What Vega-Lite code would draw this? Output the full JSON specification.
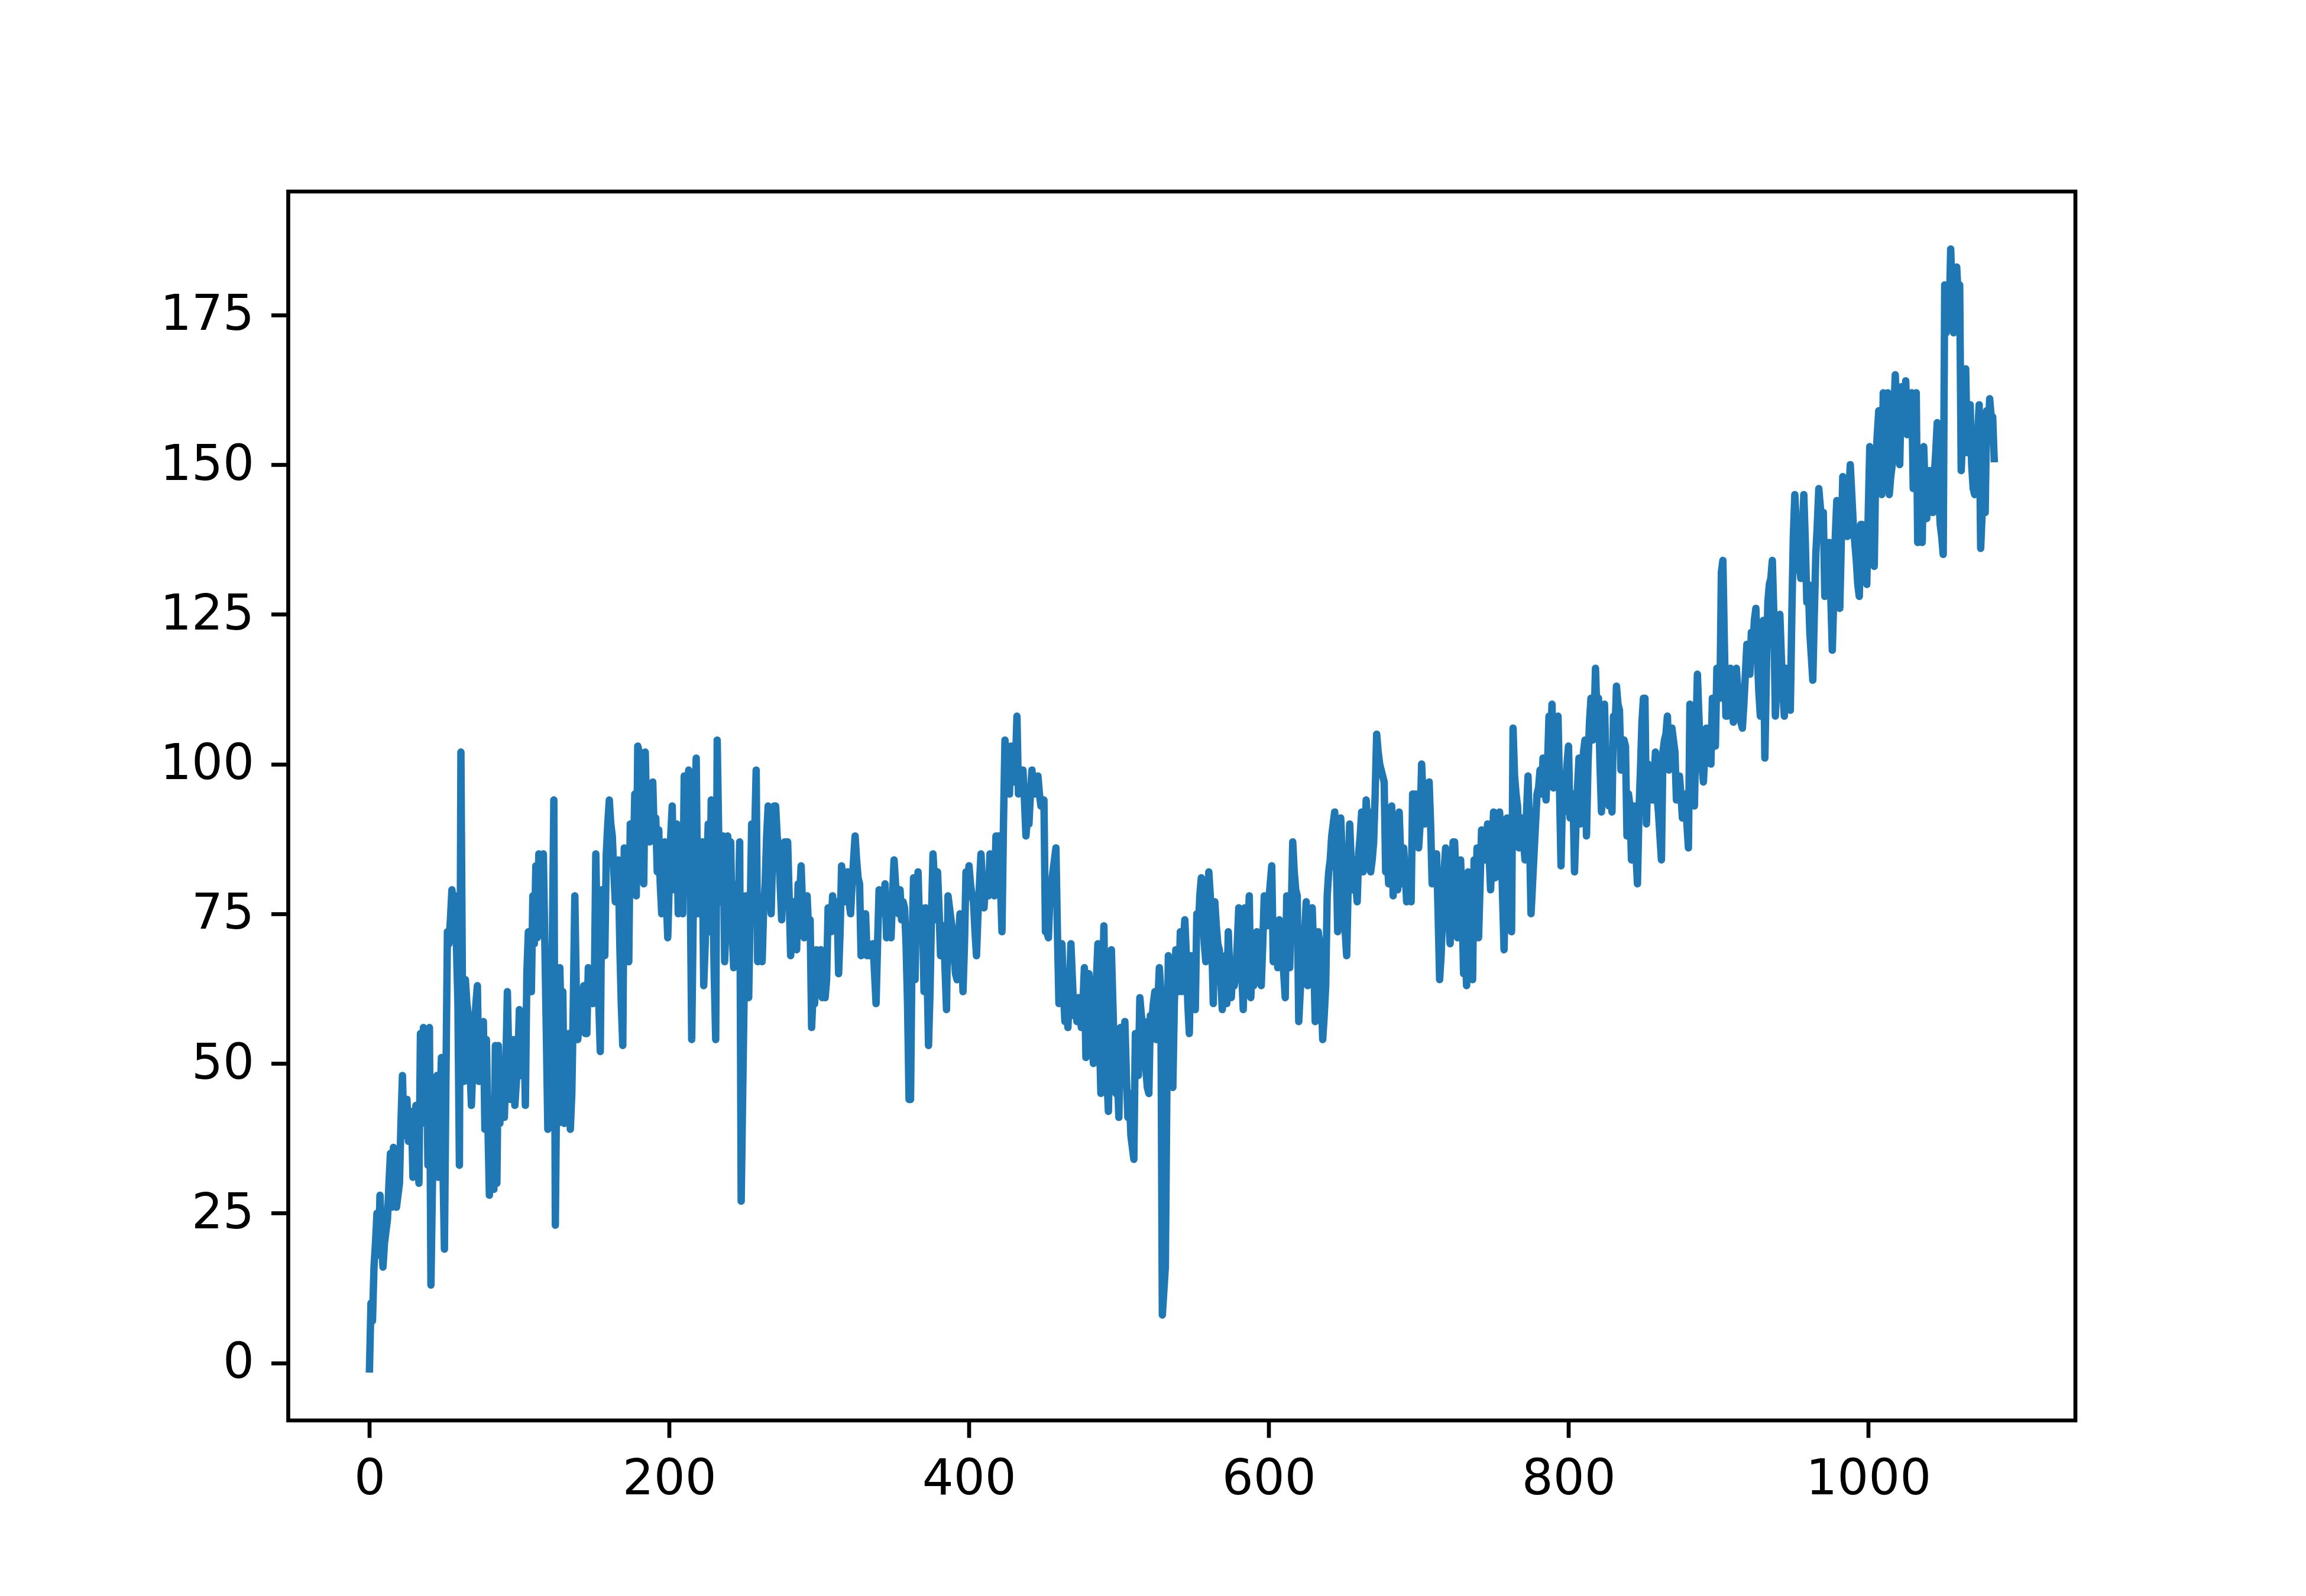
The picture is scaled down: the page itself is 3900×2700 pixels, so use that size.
{
"$schema": "https://vega.github.io/schema/vega-lite/v6.json",
"width": 3022.5, "height": 2079,
"autosize": {"type": "none"},
"padding": {"left": 487.5, "top": 324, "right": 390, "bottom": 297},
"background": "white",
"config": {
  "view": {"stroke": "black", "strokeWidth": 6.67},
  "axis": {"domain": false, "grid": false, "ticks": true, "tickColor": "black", "tickWidth": 6.67, "tickSize": 29, "labelFont": "DejaVu Sans", "labelFontSize": 83.3, "labelColor": "black", "labelPadding": 29, "labelFlush": false, "labelOverlap": false, "labelLimit": 2000, "format": "d", "title": null}
},
"data": {"values": [
{"i":0,"v":-1},{"i":1,"v":10},{"i":2,"v":7},{"i":3,"v":16},{"i":4,"v":20},{"i":5,"v":25},{"i":6,"v":18},{"i":7,"v":28},{"i":8,"v":22},{"i":9,"v":16},
{"i":10,"v":20},{"i":11,"v":22},{"i":12,"v":24},{"i":13,"v":30},{"i":14,"v":35},{"i":15,"v":26},{"i":16,"v":36},{"i":17,"v":30},{"i":18,"v":26},{"i":19,"v":28},
{"i":20,"v":30},{"i":21,"v":40},{"i":22,"v":48},{"i":23,"v":38},{"i":24,"v":42},{"i":25,"v":44},{"i":26,"v":37},{"i":27,"v":40},{"i":28,"v":42},{"i":29,"v":31},
{"i":30,"v":38},{"i":31,"v":43},{"i":32,"v":36},{"i":33,"v":30},{"i":34,"v":55},{"i":35,"v":47},{"i":36,"v":56},{"i":37,"v":40},{"i":38,"v":55},{"i":39,"v":33},
{"i":40,"v":56},{"i":41,"v":13},{"i":42,"v":30},{"i":43,"v":40},{"i":44,"v":45},{"i":45,"v":48},{"i":46,"v":31},{"i":47,"v":42},{"i":48,"v":51},{"i":49,"v":33},
{"i":50,"v":19},{"i":51,"v":47},{"i":52,"v":72},{"i":53,"v":70},{"i":54,"v":74},{"i":55,"v":79},{"i":56,"v":76},{"i":57,"v":78},{"i":58,"v":70},{"i":59,"v":60},
{"i":60,"v":33},{"i":61,"v":102},{"i":62,"v":63},{"i":63,"v":47},{"i":64,"v":64},{"i":65,"v":60},{"i":66,"v":58},{"i":67,"v":50},{"i":68,"v":43},{"i":69,"v":50},
{"i":70,"v":55},{"i":71,"v":60},{"i":72,"v":63},{"i":73,"v":47},{"i":74,"v":54},{"i":75,"v":50},{"i":76,"v":57},{"i":77,"v":39},{"i":78,"v":54},{"i":79,"v":40},
{"i":80,"v":28},{"i":81,"v":40},{"i":82,"v":30},{"i":83,"v":29},{"i":84,"v":53},{"i":85,"v":30},{"i":86,"v":53},{"i":87,"v":40},{"i":88,"v":49},{"i":89,"v":45},
{"i":90,"v":41},{"i":91,"v":50},{"i":92,"v":62},{"i":93,"v":50},{"i":94,"v":44},{"i":95,"v":50},{"i":96,"v":54},{"i":97,"v":43},{"i":98,"v":47},{"i":99,"v":50},
{"i":100,"v":59},{"i":101,"v":48},{"i":102,"v":55},{"i":103,"v":58},{"i":104,"v":43},{"i":105,"v":65},{"i":106,"v":72},{"i":107,"v":63},{"i":108,"v":62},{"i":109,"v":78},
{"i":110,"v":70},{"i":111,"v":83},{"i":112,"v":71},{"i":113,"v":85},{"i":114,"v":76},{"i":115,"v":80},{"i":116,"v":85},{"i":117,"v":70},{"i":118,"v":55},{"i":119,"v":39},
{"i":120,"v":60},{"i":121,"v":45},{"i":122,"v":70},{"i":123,"v":94},{"i":124,"v":23},{"i":125,"v":50},{"i":126,"v":40},{"i":127,"v":66},{"i":128,"v":55},{"i":129,"v":62},
{"i":130,"v":40},{"i":131,"v":48},{"i":132,"v":52},{"i":133,"v":55},{"i":134,"v":39},{"i":135,"v":45},{"i":136,"v":60},{"i":137,"v":78},{"i":138,"v":62},{"i":139,"v":54},
{"i":140,"v":58},{"i":141,"v":56},{"i":142,"v":60},{"i":143,"v":63},{"i":144,"v":55},{"i":145,"v":55},{"i":146,"v":66},{"i":147,"v":62},{"i":148,"v":64},{"i":149,"v":60},
{"i":150,"v":62},{"i":151,"v":85},{"i":152,"v":70},{"i":153,"v":60},{"i":154,"v":52},{"i":155,"v":79},{"i":156,"v":72},{"i":157,"v":68},{"i":158,"v":85},{"i":159,"v":90},
{"i":160,"v":94},{"i":161,"v":90},{"i":162,"v":88},{"i":163,"v":82},{"i":164,"v":77},{"i":165,"v":80},{"i":166,"v":84},{"i":167,"v":70},{"i":168,"v":60},{"i":169,"v":53},
{"i":170,"v":86},{"i":171,"v":75},{"i":172,"v":70},{"i":173,"v":67},{"i":174,"v":90},{"i":175,"v":85},{"i":176,"v":82},{"i":177,"v":95},{"i":178,"v":78},{"i":179,"v":103},
{"i":180,"v":102},{"i":181,"v":92},{"i":182,"v":85},{"i":183,"v":80},{"i":184,"v":102},{"i":185,"v":90},{"i":186,"v":88},{"i":187,"v":87},{"i":188,"v":92},{"i":189,"v":97},
{"i":190,"v":88},{"i":191,"v":91},{"i":192,"v":82},{"i":193,"v":89},{"i":194,"v":80},{"i":195,"v":75},{"i":196,"v":82},{"i":197,"v":87},{"i":198,"v":78},{"i":199,"v":71},
{"i":200,"v":80},{"i":201,"v":88},{"i":202,"v":93},{"i":203,"v":79},{"i":204,"v":85},{"i":205,"v":90},{"i":206,"v":75},{"i":207,"v":82},{"i":208,"v":77},{"i":209,"v":75},
{"i":210,"v":98},{"i":211,"v":88},{"i":212,"v":95},{"i":213,"v":99},{"i":214,"v":80},{"i":215,"v":54},{"i":216,"v":75},{"i":217,"v":90},{"i":218,"v":101},{"i":219,"v":75},
{"i":220,"v":80},{"i":221,"v":84},{"i":222,"v":87},{"i":223,"v":63},{"i":224,"v":70},{"i":225,"v":82},{"i":226,"v":90},{"i":227,"v":72},{"i":228,"v":94},{"i":229,"v":80},
{"i":230,"v":65},{"i":231,"v":54},{"i":232,"v":104},{"i":233,"v":88},{"i":234,"v":77},{"i":235,"v":83},{"i":236,"v":88},{"i":237,"v":67},{"i":238,"v":75},{"i":239,"v":88},
{"i":240,"v":80},{"i":241,"v":87},{"i":242,"v":72},{"i":243,"v":66},{"i":244,"v":75},{"i":245,"v":80},{"i":246,"v":74},{"i":247,"v":87},{"i":248,"v":27},{"i":249,"v":45},
{"i":250,"v":62},{"i":251,"v":78},{"i":252,"v":70},{"i":253,"v":61},{"i":254,"v":75},{"i":255,"v":90},{"i":256,"v":80},{"i":257,"v":88},{"i":258,"v":99},{"i":259,"v":67},
{"i":260,"v":72},{"i":261,"v":75},{"i":262,"v":67},{"i":263,"v":76},{"i":264,"v":80},{"i":265,"v":88},{"i":266,"v":93},{"i":267,"v":82},{"i":268,"v":75},{"i":269,"v":85},
{"i":270,"v":93},{"i":271,"v":93},{"i":272,"v":88},{"i":273,"v":86},{"i":274,"v":80},{"i":275,"v":74},{"i":276,"v":80},{"i":277,"v":87},{"i":278,"v":84},{"i":279,"v":87},
{"i":280,"v":78},{"i":281,"v":68},{"i":282,"v":72},{"i":283,"v":77},{"i":284,"v":73},{"i":285,"v":69},{"i":286,"v":80},{"i":287,"v":78},{"i":288,"v":83},{"i":289,"v":76},
{"i":290,"v":71},{"i":291,"v":74},{"i":292,"v":78},{"i":293,"v":72},{"i":294,"v":74},{"i":295,"v":56},{"i":296,"v":62},{"i":297,"v":60},{"i":298,"v":69},{"i":299,"v":63},
{"i":300,"v":68},{"i":301,"v":69},{"i":302,"v":61},{"i":303,"v":65},{"i":304,"v":61},{"i":305,"v":64},{"i":306,"v":76},{"i":307,"v":74},{"i":308,"v":72},{"i":309,"v":78},
{"i":310,"v":74},{"i":311,"v":77},{"i":312,"v":77},{"i":313,"v":65},{"i":314,"v":72},{"i":315,"v":83},{"i":316,"v":80},{"i":317,"v":77},{"i":318,"v":80},{"i":319,"v":82},
{"i":320,"v":77},{"i":321,"v":75},{"i":322,"v":80},{"i":323,"v":84},{"i":324,"v":88},{"i":325,"v":84},{"i":326,"v":81},{"i":327,"v":80},{"i":328,"v":68},{"i":329,"v":73},
{"i":330,"v":70},{"i":331,"v":75},{"i":332,"v":68},{"i":333,"v":70},{"i":334,"v":68},{"i":335,"v":69},{"i":336,"v":70},{"i":337,"v":65},{"i":338,"v":60},{"i":339,"v":70},
{"i":340,"v":79},{"i":341,"v":75},{"i":342,"v":78},{"i":343,"v":77},{"i":344,"v":80},{"i":345,"v":71},{"i":346,"v":74},{"i":347,"v":72},{"i":348,"v":71},{"i":349,"v":78},
{"i":350,"v":84},{"i":351,"v":80},{"i":352,"v":76},{"i":353,"v":75},{"i":354,"v":79},{"i":355,"v":74},{"i":356,"v":77},{"i":357,"v":76},{"i":358,"v":70},{"i":359,"v":60},
{"i":360,"v":44},{"i":361,"v":44},{"i":362,"v":69},{"i":363,"v":81},{"i":364,"v":64},{"i":365,"v":78},{"i":366,"v":82},{"i":367,"v":73},{"i":368,"v":76},{"i":369,"v":75},
{"i":370,"v":62},{"i":371,"v":76},{"i":372,"v":66},{"i":373,"v":53},{"i":374,"v":62},{"i":375,"v":75},{"i":376,"v":85},{"i":377,"v":80},{"i":378,"v":74},{"i":379,"v":82},
{"i":380,"v":76},{"i":381,"v":68},{"i":382,"v":72},{"i":383,"v":73},{"i":384,"v":66},{"i":385,"v":59},{"i":386,"v":78},{"i":387,"v":76},{"i":388,"v":74},{"i":389,"v":72},
{"i":390,"v":68},{"i":391,"v":65},{"i":392,"v":64},{"i":393,"v":71},{"i":394,"v":75},{"i":395,"v":70},{"i":396,"v":62},{"i":397,"v":70},{"i":398,"v":82},{"i":399,"v":80},
{"i":400,"v":83},{"i":401,"v":80},{"i":402,"v":78},{"i":403,"v":77},{"i":404,"v":72},{"i":405,"v":68},{"i":406,"v":75},{"i":407,"v":80},{"i":408,"v":85},{"i":409,"v":80},
{"i":410,"v":76},{"i":411,"v":80},{"i":412,"v":79},{"i":413,"v":78},{"i":414,"v":85},{"i":415,"v":80},{"i":416,"v":82},{"i":417,"v":78},{"i":418,"v":88},{"i":419,"v":85},
{"i":420,"v":88},{"i":421,"v":80},{"i":422,"v":72},{"i":423,"v":90},{"i":424,"v":104},{"i":425,"v":100},{"i":426,"v":97},{"i":427,"v":95},{"i":428,"v":103},{"i":429,"v":99},
{"i":430,"v":97},{"i":431,"v":100},{"i":432,"v":108},{"i":433,"v":95},{"i":434,"v":98},{"i":435,"v":96},{"i":436,"v":99},{"i":437,"v":94},{"i":438,"v":88},{"i":439,"v":91},
{"i":440,"v":90},{"i":441,"v":95},{"i":442,"v":99},{"i":443,"v":96},{"i":444,"v":95},{"i":445,"v":97},{"i":446,"v":98},{"i":447,"v":95},{"i":448,"v":93},{"i":449,"v":94},
{"i":450,"v":94},{"i":451,"v":72},{"i":452,"v":72},{"i":453,"v":71},{"i":454,"v":78},{"i":455,"v":80},{"i":456,"v":82},{"i":457,"v":84},{"i":458,"v":86},{"i":459,"v":72},
{"i":460,"v":60},{"i":461,"v":65},{"i":462,"v":70},{"i":463,"v":62},{"i":464,"v":57},{"i":465,"v":60},{"i":466,"v":56},{"i":467,"v":62},{"i":468,"v":70},{"i":469,"v":64},
{"i":470,"v":58},{"i":471,"v":60},{"i":472,"v":57},{"i":473,"v":61},{"i":474,"v":58},{"i":475,"v":56},{"i":476,"v":60},{"i":477,"v":66},{"i":478,"v":51},{"i":479,"v":58},
{"i":480,"v":65},{"i":481,"v":60},{"i":482,"v":55},{"i":483,"v":50},{"i":484,"v":58},{"i":485,"v":64},{"i":486,"v":70},{"i":487,"v":55},{"i":488,"v":45},{"i":489,"v":60},
{"i":490,"v":73},{"i":491,"v":55},{"i":492,"v":48},{"i":493,"v":42},{"i":494,"v":55},{"i":495,"v":69},{"i":496,"v":60},{"i":497,"v":51},{"i":498,"v":45},{"i":499,"v":48},
{"i":500,"v":41},{"i":501,"v":56},{"i":502,"v":50},{"i":503,"v":55},{"i":504,"v":57},{"i":505,"v":48},{"i":506,"v":41},{"i":507,"v":45},{"i":508,"v":38},{"i":509,"v":36},
{"i":510,"v":34},{"i":511,"v":55},{"i":512,"v":52},{"i":513,"v":48},{"i":514,"v":61},{"i":515,"v":58},{"i":516,"v":56},{"i":517,"v":57},{"i":518,"v":49},{"i":519,"v":46},
{"i":520,"v":45},{"i":521,"v":58},{"i":522,"v":57},{"i":523,"v":60},{"i":524,"v":62},{"i":525,"v":54},{"i":526,"v":60},{"i":527,"v":66},{"i":528,"v":62},{"i":529,"v":8},
{"i":530,"v":12},{"i":531,"v":16},{"i":532,"v":45},{"i":533,"v":68},{"i":534,"v":60},{"i":535,"v":52},{"i":536,"v":46},{"i":537,"v":60},{"i":538,"v":69},{"i":539,"v":65},
{"i":540,"v":62},{"i":541,"v":72},{"i":542,"v":62},{"i":543,"v":70},{"i":544,"v":74},{"i":545,"v":68},{"i":546,"v":60},{"i":547,"v":55},{"i":548,"v":68},{"i":549,"v":64},
{"i":550,"v":62},{"i":551,"v":59},{"i":552,"v":75},{"i":553,"v":72},{"i":554,"v":78},{"i":555,"v":81},{"i":556,"v":75},{"i":557,"v":70},{"i":558,"v":67},{"i":559,"v":74},
{"i":560,"v":82},{"i":561,"v":78},{"i":562,"v":70},{"i":563,"v":60},{"i":564,"v":77},{"i":565,"v":73},{"i":566,"v":70},{"i":567,"v":69},{"i":568,"v":64},{"i":569,"v":59},
{"i":570,"v":63},{"i":571,"v":68},{"i":572,"v":60},{"i":573,"v":72},{"i":574,"v":65},{"i":575,"v":61},{"i":576,"v":66},{"i":577,"v":63},{"i":578,"v":65},{"i":579,"v":70},
{"i":580,"v":76},{"i":581,"v":72},{"i":582,"v":65},{"i":583,"v":59},{"i":584,"v":76},{"i":585,"v":72},{"i":586,"v":70},{"i":587,"v":78},{"i":588,"v":61},{"i":589,"v":66},
{"i":590,"v":63},{"i":591,"v":68},{"i":592,"v":72},{"i":593,"v":70},{"i":594,"v":66},{"i":595,"v":63},{"i":596,"v":70},{"i":597,"v":78},{"i":598,"v":76},{"i":599,"v":73},
{"i":600,"v":77},{"i":601,"v":80},{"i":602,"v":83},{"i":603,"v":67},{"i":604,"v":72},{"i":605,"v":70},{"i":606,"v":66},{"i":607,"v":74},{"i":608,"v":70},{"i":609,"v":68},
{"i":610,"v":65},{"i":611,"v":61},{"i":612,"v":78},{"i":613,"v":72},{"i":614,"v":66},{"i":615,"v":75},{"i":616,"v":87},{"i":617,"v":82},{"i":618,"v":79},{"i":619,"v":78},
{"i":620,"v":57},{"i":621,"v":62},{"i":622,"v":66},{"i":623,"v":70},{"i":624,"v":72},{"i":625,"v":77},{"i":626,"v":63},{"i":627,"v":70},{"i":628,"v":73},{"i":629,"v":76},
{"i":630,"v":68},{"i":631,"v":57},{"i":632,"v":64},{"i":633,"v":72},{"i":634,"v":70},{"i":635,"v":62},{"i":636,"v":54},{"i":637,"v":58},{"i":638,"v":63},{"i":639,"v":78},
{"i":640,"v":82},{"i":641,"v":84},{"i":642,"v":88},{"i":643,"v":90},{"i":644,"v":92},{"i":645,"v":85},{"i":646,"v":72},{"i":647,"v":80},{"i":648,"v":91},{"i":649,"v":85},
{"i":650,"v":78},{"i":651,"v":72},{"i":652,"v":68},{"i":653,"v":80},{"i":654,"v":90},{"i":655,"v":84},{"i":656,"v":79},{"i":657,"v":84},{"i":658,"v":80},{"i":659,"v":77},
{"i":660,"v":85},{"i":661,"v":88},{"i":662,"v":92},{"i":663,"v":82},{"i":664,"v":86},{"i":665,"v":94},{"i":666,"v":90},{"i":667,"v":92},{"i":668,"v":82},{"i":669,"v":84},
{"i":670,"v":87},{"i":671,"v":95},{"i":672,"v":105},{"i":673,"v":102},{"i":674,"v":100},{"i":675,"v":99},{"i":676,"v":98},{"i":677,"v":97},{"i":678,"v":82},{"i":679,"v":85},
{"i":680,"v":80},{"i":681,"v":86},{"i":682,"v":93},{"i":683,"v":78},{"i":684,"v":88},{"i":685,"v":84},{"i":686,"v":79},{"i":687,"v":92},{"i":688,"v":85},{"i":689,"v":80},
{"i":690,"v":86},{"i":691,"v":82},{"i":692,"v":77},{"i":693,"v":80},{"i":694,"v":82},{"i":695,"v":77},{"i":696,"v":95},{"i":697,"v":90},{"i":698,"v":95},{"i":699,"v":92},
{"i":700,"v":86},{"i":701,"v":90},{"i":702,"v":100},{"i":703,"v":94},{"i":704,"v":90},{"i":705,"v":93},{"i":706,"v":95},{"i":707,"v":97},{"i":708,"v":90},{"i":709,"v":80},
{"i":710,"v":83},{"i":711,"v":85},{"i":712,"v":85},{"i":713,"v":75},{"i":714,"v":64},{"i":715,"v":68},{"i":716,"v":75},{"i":717,"v":82},{"i":718,"v":86},{"i":719,"v":80},
{"i":720,"v":75},{"i":721,"v":70},{"i":722,"v":78},{"i":723,"v":87},{"i":724,"v":87},{"i":725,"v":80},{"i":726,"v":71},{"i":727,"v":78},{"i":728,"v":84},{"i":729,"v":76},
{"i":730,"v":65},{"i":731,"v":70},{"i":732,"v":63},{"i":733,"v":82},{"i":734,"v":75},{"i":735,"v":70},{"i":736,"v":64},{"i":737,"v":84},{"i":738,"v":78},{"i":739,"v":86},
{"i":740,"v":71},{"i":741,"v":80},{"i":742,"v":89},{"i":743,"v":86},{"i":744,"v":84},{"i":745,"v":87},{"i":746,"v":90},{"i":747,"v":85},{"i":748,"v":79},{"i":749,"v":85},
{"i":750,"v":92},{"i":751,"v":81},{"i":752,"v":86},{"i":753,"v":90},{"i":754,"v":92},{"i":755,"v":88},{"i":756,"v":78},{"i":757,"v":69},{"i":758,"v":82},{"i":759,"v":91},
{"i":760,"v":88},{"i":761,"v":80},{"i":762,"v":72},{"i":763,"v":106},{"i":764,"v":98},{"i":765,"v":95},{"i":766,"v":93},{"i":767,"v":86},{"i":768,"v":88},{"i":769,"v":91},
{"i":770,"v":87},{"i":771,"v":84},{"i":772,"v":92},{"i":773,"v":98},{"i":774,"v":88},{"i":775,"v":75},{"i":776,"v":80},{"i":777,"v":85},{"i":778,"v":90},{"i":779,"v":95},
{"i":780,"v":96},{"i":781,"v":99},{"i":782,"v":95},{"i":783,"v":101},{"i":784,"v":97},{"i":785,"v":94},{"i":786,"v":100},{"i":787,"v":108},{"i":788,"v":103},{"i":789,"v":110},
{"i":790,"v":96},{"i":791,"v":100},{"i":792,"v":104},{"i":793,"v":108},{"i":794,"v":96},{"i":795,"v":83},{"i":796,"v":95},{"i":797,"v":92},{"i":798,"v":96},{"i":799,"v":100},
{"i":800,"v":103},{"i":801,"v":91},{"i":802,"v":93},{"i":803,"v":95},{"i":804,"v":82},{"i":805,"v":90},{"i":806,"v":96},{"i":807,"v":101},{"i":808,"v":90},{"i":809,"v":97},
{"i":810,"v":102},{"i":811,"v":104},{"i":812,"v":88},{"i":813,"v":100},{"i":814,"v":107},{"i":815,"v":111},{"i":816,"v":104},{"i":817,"v":106},{"i":818,"v":116},{"i":819,"v":108},
{"i":820,"v":111},{"i":821,"v":100},{"i":822,"v":92},{"i":823,"v":100},{"i":824,"v":110},{"i":825,"v":100},{"i":826,"v":95},{"i":827,"v":93},{"i":828,"v":98},{"i":829,"v":92},
{"i":830,"v":108},{"i":831,"v":105},{"i":832,"v":113},{"i":833,"v":110},{"i":834,"v":109},{"i":835,"v":99},{"i":836,"v":102},{"i":837,"v":104},{"i":838,"v":103},{"i":839,"v":88},
{"i":840,"v":95},{"i":841,"v":93},{"i":842,"v":84},{"i":843,"v":90},{"i":844,"v":93},{"i":845,"v":85},{"i":846,"v":80},{"i":847,"v":92},{"i":848,"v":99},{"i":849,"v":107},
{"i":850,"v":111},{"i":851,"v":111},{"i":852,"v":90},{"i":853,"v":100},{"i":854,"v":96},{"i":855,"v":98},{"i":856,"v":94},{"i":857,"v":97},{"i":858,"v":102},{"i":859,"v":95},
{"i":860,"v":92},{"i":861,"v":88},{"i":862,"v":84},{"i":863,"v":102},{"i":864,"v":104},{"i":865,"v":105},{"i":866,"v":108},{"i":867,"v":99},{"i":868,"v":103},{"i":869,"v":106},
{"i":870,"v":104},{"i":871,"v":102},{"i":872,"v":94},{"i":873,"v":96},{"i":874,"v":98},{"i":875,"v":95},{"i":876,"v":91},{"i":877,"v":93},{"i":878,"v":95},{"i":879,"v":90},
{"i":880,"v":86},{"i":881,"v":110},{"i":882,"v":104},{"i":883,"v":100},{"i":884,"v":93},{"i":885,"v":105},{"i":886,"v":115},{"i":887,"v":108},{"i":888,"v":102},{"i":889,"v":100},
{"i":890,"v":97},{"i":891,"v":102},{"i":892,"v":106},{"i":893,"v":104},{"i":894,"v":102},{"i":895,"v":100},{"i":896,"v":111},{"i":897,"v":108},{"i":898,"v":103},{"i":899,"v":116},
{"i":900,"v":113},{"i":901,"v":111},{"i":902,"v":132},{"i":903,"v":134},{"i":904,"v":120},{"i":905,"v":108},{"i":906,"v":108},{"i":907,"v":112},{"i":908,"v":116},{"i":909,"v":110},
{"i":910,"v":107},{"i":911,"v":108},{"i":912,"v":116},{"i":913,"v":112},{"i":914,"v":108},{"i":915,"v":107},{"i":916,"v":106},{"i":917,"v":110},{"i":918,"v":115},{"i":919,"v":120},
{"i":920,"v":117},{"i":921,"v":115},{"i":922,"v":122},{"i":923,"v":119},{"i":924,"v":124},{"i":925,"v":126},{"i":926,"v":118},{"i":927,"v":112},{"i":928,"v":108},{"i":929,"v":115},
{"i":930,"v":124},{"i":931,"v":101},{"i":932,"v":115},{"i":933,"v":127},{"i":934,"v":130},{"i":935,"v":131},{"i":936,"v":134},{"i":937,"v":125},{"i":938,"v":108},{"i":939,"v":114},
{"i":940,"v":120},{"i":941,"v":125},{"i":942,"v":118},{"i":943,"v":112},{"i":944,"v":108},{"i":945,"v":116},{"i":946,"v":112},{"i":947,"v":110},{"i":948,"v":109},{"i":949,"v":125},
{"i":950,"v":138},{"i":951,"v":145},{"i":952,"v":140},{"i":953,"v":135},{"i":954,"v":133},{"i":955,"v":131},{"i":956,"v":138},{"i":957,"v":145},{"i":958,"v":137},{"i":959,"v":127},
{"i":960,"v":130},{"i":961,"v":122},{"i":962,"v":118},{"i":963,"v":114},{"i":964,"v":125},{"i":965,"v":135},{"i":966,"v":140},{"i":967,"v":146},{"i":968,"v":143},{"i":969,"v":140},
{"i":970,"v":142},{"i":971,"v":128},{"i":972,"v":132},{"i":973,"v":135},{"i":974,"v":137},{"i":975,"v":128},{"i":976,"v":119},{"i":977,"v":128},{"i":978,"v":138},{"i":979,"v":144},
{"i":980,"v":136},{"i":981,"v":126},{"i":982,"v":137},{"i":983,"v":148},{"i":984,"v":144},{"i":985,"v":140},{"i":986,"v":138},{"i":987,"v":145},{"i":988,"v":150},{"i":989,"v":145},
{"i":990,"v":140},{"i":991,"v":137},{"i":992,"v":134},{"i":993,"v":130},{"i":994,"v":128},{"i":995,"v":140},{"i":996,"v":140},{"i":997,"v":136},{"i":998,"v":132},{"i":999,"v":130},
{"i":1000,"v":142},{"i":1001,"v":153},{"i":1002,"v":148},{"i":1003,"v":140},{"i":1004,"v":133},{"i":1005,"v":150},{"i":1006,"v":155},{"i":1007,"v":159},{"i":1008,"v":150},{"i":1009,"v":145},
{"i":1010,"v":162},{"i":1011,"v":158},{"i":1012,"v":155},{"i":1013,"v":162},{"i":1014,"v":145},{"i":1015,"v":148},{"i":1016,"v":150},{"i":1017,"v":158},{"i":1018,"v":165},{"i":1019,"v":158},
{"i":1020,"v":155},{"i":1021,"v":150},{"i":1022,"v":163},{"i":1023,"v":160},{"i":1024,"v":158},{"i":1025,"v":164},{"i":1026,"v":155},{"i":1027,"v":158},{"i":1028,"v":160},{"i":1029,"v":162},
{"i":1030,"v":146},{"i":1031,"v":155},{"i":1032,"v":162},{"i":1033,"v":137},{"i":1034,"v":145},{"i":1035,"v":150},{"i":1036,"v":137},{"i":1037,"v":153},{"i":1038,"v":145},{"i":1039,"v":141},
{"i":1040,"v":148},{"i":1041,"v":149},{"i":1042,"v":144},{"i":1043,"v":142},{"i":1044,"v":148},{"i":1045,"v":152},{"i":1046,"v":157},{"i":1047,"v":145},{"i":1048,"v":140},{"i":1049,"v":138},
{"i":1050,"v":135},{"i":1051,"v":180},{"i":1052,"v":172},{"i":1053,"v":178},{"i":1054,"v":175},{"i":1055,"v":186},{"i":1056,"v":178},{"i":1057,"v":172},{"i":1058,"v":176},{"i":1059,"v":183},
{"i":1060,"v":178},{"i":1061,"v":180},{"i":1062,"v":149},{"i":1063,"v":155},{"i":1064,"v":160},{"i":1065,"v":166},{"i":1066,"v":152},{"i":1067,"v":156},{"i":1068,"v":160},{"i":1069,"v":150},
{"i":1070,"v":146},{"i":1071,"v":145},{"i":1072,"v":152},{"i":1073,"v":155},{"i":1074,"v":160},{"i":1075,"v":136},{"i":1076,"v":142},{"i":1077,"v":148},{"i":1078,"v":142},{"i":1079,"v":159},
{"i":1080,"v":154},{"i":1081,"v":161},{"i":1082,"v":158},{"i":1083,"v":158},{"i":1084,"v":151}
]},
"mark": {"type": "line", "stroke": "#1f77b4", "strokeWidth": 12.5, "strokeJoin": "round", "strokeCap": "square"},
"encoding": {
  "x": {"field": "i", "type": "quantitative", "scale": {"domain": [-54.2, 1138.2], "nice": false, "zero": false}, "axis": {"values": [0, 200, 400, 600, 800, 1000], "format": "d", "labelLimit": 2000}},
  "y": {"field": "v", "type": "quantitative", "scale": {"domain": [-9.6, 195.6], "nice": false, "zero": false}, "axis": {"values": [0, 25, 50, 75, 100, 125, 150, 175], "format": "d", "labelLimit": 2000}}
}
}
